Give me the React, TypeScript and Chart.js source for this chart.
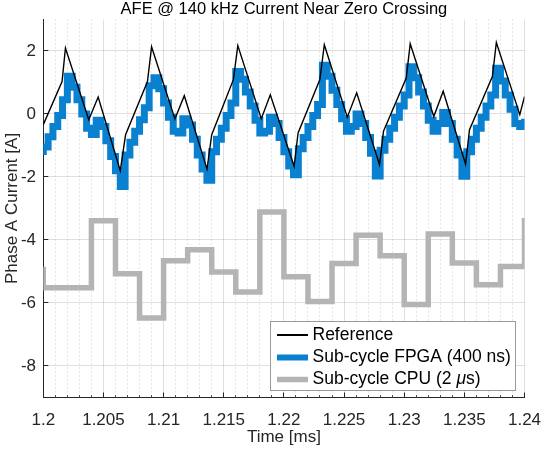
import React, { useEffect, useRef } from "react";
import { Chart, registerables } from "chart.js";

Chart.register(...registerables);

// ---------- text ----------
const TITLE = "AFE @ 140 kHz Current Near Zero Crossing";
const X_LABEL = "Time [ms]";
const Y_LABEL = "Phase A Current [A]";
const SERIES_NAMES = ["Reference", "Sub-cycle FPGA (400 ns)", "Sub-cycle CPU (2 μs)"];

// ---------- axes ----------
const xTickValues = [1.2, 1.205, 1.21, 1.215, 1.22, 1.225, 1.23, 1.235, 1.24];
const xTickLabels = ["1.2", "1.205", "1.21", "1.215", "1.22", "1.225", "1.23", "1.235", "1.24"];
const xMinorTickValues = [
  1.201, 1.202, 1.203, 1.204, 1.206, 1.207, 1.208, 1.209,
  1.211, 1.212, 1.213, 1.214, 1.216, 1.217, 1.218, 1.219,
  1.221, 1.222, 1.223, 1.224, 1.226, 1.227, 1.228, 1.229,
  1.231, 1.232, 1.233, 1.234, 1.236, 1.237, 1.238, 1.239,
];
const yTickValues = [-8, -6, -4, -2, 0, 2];
const yTickLabels = ["-8", "-6", "-4", "-2", "0", "2"];
const X_MIN = 1.2;
const X_MAX = 1.24;
const Y_MIN = -9;
const Y_MAX = 3;

// ---------- Reference (corner points, ms / A) ----------
const refTimes = [
  1.2, 1.20156, 1.20184, 1.20378, 1.20456, 1.2064, 1.20684, 1.20866, 1.209,
  1.21094, 1.21172, 1.21361, 1.214, 1.2158, 1.21617, 1.21812, 1.21887, 1.22085,
  1.22118, 1.22299, 1.22336, 1.22527, 1.22605, 1.22795, 1.22828, 1.23017, 1.2305,
  1.23246, 1.23324, 1.2351, 1.23543, 1.23733, 1.23766, 1.23961, 1.24,
];
const refValues = [
  -0.34, 1.03, 2.09, -0.18, 0.54, -1.8, -0.66, 1.03, 2.13,
  -0.16, 0.58, -1.75, -0.66, 1.09, 2.17, -0.15, 0.61, -1.66,
  -0.6, 1.09, 2.2, -0.1, 0.67, -1.61, -0.55, 1.14, 2.23,
  -0.08, 0.72, -1.59, -0.5, 1.19, 2.27, -0.02, 0.55,
];

// ---------- Sub-cycle FPGA (400 ns hold) ----------
const fpgaStartMs = 1.2;
const fpgaStepMs = 0.0004;
const fpgaInitial = -1.3;
const fpgaValues = [
  -1.05, -0.72, -0.4, -0.05, 0.45, 1.2, 0.85, 0.45, 0.0, -0.45,
  -0.65, -0.2, -0.4, -0.85, -1.35, -1.8, -2.3, -1.3, -0.9, -0.55,
  -0.18, 0.2, 0.9, 1.15, 0.8, 0.35, -0.1, -0.55, -0.6, -0.15,
  -0.35, -0.8, -1.3, -1.75, -2.1, -1.2, -0.8, -0.45, -0.05, 0.35,
  1.35, 1.1, 0.7, 0.25, -0.2, -0.6, -0.55, -0.1, -0.3, -0.75,
  -1.2, -1.65, -1.93, -1.1, -0.75, -0.4, -0.05, 0.3, 1.55, 1.2,
  0.75, 0.3, -0.15, -0.55, -0.4, 0.0, -0.3, -0.75, -1.25, -1.97,
  -1.15, -0.8, -0.45, -0.1, 0.25, 0.6, 1.5, 1.15, 0.7, 0.25,
  -0.2, -0.55, -0.3, 0.05, -0.3, -0.8, -1.3, -1.98, -1.2, -0.8,
  -0.45, -0.1, 0.25, 0.6, 1.45, 1.05, 0.6, 0.15, -0.3, -0.4,
];
const fpgaFinal = -0.15;

// ---------- Sub-cycle CPU (2 us hold) ----------
const cpuTimes = [
  1.2, 1.202, 1.204, 1.206, 1.208, 1.21, 1.212, 1.214, 1.216, 1.218,
  1.22, 1.222, 1.224, 1.226, 1.228, 1.23, 1.232, 1.234, 1.236, 1.238,
];
const cpuValues = [
  -5.52, -5.52, -3.39, -5.07, -6.48, -4.66, -4.31, -5.02, -5.65, -3.11,
  -5.17, -5.95, -4.75, -3.85, -4.5, -6.05, -3.81, -4.73, -5.42, -4.84,
];
const cpuInitial = -4.85;
const cpuFinal = -3.3;

// ---------- styles ----------
const FONT = '"Liberation Sans", Arial, Helvetica, sans-serif';
const TEXT = "#262626";
const AXIS = "#262626";
const GRID = "rgba(38,38,38,0.15)";
const MINOR_GRID = "rgba(26,26,26,0.22)";
const BLUE = "#0A80D0";
const GREY = "#B4B4B4";
const LEGEND_EDGE = "#9a9a9a";
const SWATCH_WIDTHS = [2, 6, 5.5];

const legendPlugin = {
  id: "boxedLegend",
  afterDraw(chart: any) {
    const ctx = chart.ctx as CanvasRenderingContext2D;
    const left = 270.5, top = 321.5, right = 515.5, bottom = 390.5;
    const rowY = [335, 357.5, 379.5];
    ctx.save();
    ctx.fillStyle = "#ffffff";
    ctx.fillRect(left, top, right - left, bottom - top);
    ctx.strokeStyle = LEGEND_EDGE;
    ctx.lineWidth = 1;
    ctx.strokeRect(left, top, right - left, bottom - top);
    chart.data.datasets.forEach((ds: any, i: number) => {
      const y = rowY[i];
      ctx.beginPath();
      ctx.strokeStyle = ds.borderColor;
      ctx.lineWidth = SWATCH_WIDTHS[i];
      ctx.lineCap = "butt";
      ctx.moveTo(277, y);
      ctx.lineTo(308, y);
      ctx.stroke();
      ctx.fillStyle = "#000";
      ctx.textBaseline = "middle";
      ctx.textAlign = "left";
      const parts = String(ds.label).split("μ");
      let x = 312.5;
      parts.forEach((p: string, j: number) => {
        ctx.font = `17.5px ${FONT}`;
        ctx.fillText(p, x, y);
        x += ctx.measureText(p).width;
        if (j < parts.length - 1) {
          ctx.font = `italic 17.5px ${FONT}`;
          ctx.fillText("μ", x, y);
          x += ctx.measureText("μ").width;
        }
      });
    });
    ctx.restore();
  },
};

export default function App() {
  const canvasRef = useRef<HTMLCanvasElement | null>(null);

  useEffect(() => {
    if (!canvasRef.current) return;

    const refData = refTimes.map((t, i) => ({ x: t, y: refValues[i] }));
    const fpgaData = [{ x: fpgaStartMs, y: fpgaInitial }]
      .concat(fpgaValues.map((v, k) => ({ x: fpgaStartMs + k * fpgaStepMs, y: v })))
      .concat([{ x: X_MAX, y: fpgaFinal }]);
    const cpuData = [{ x: cpuTimes[0], y: cpuInitial }]
      .concat(cpuTimes.map((t, i) => ({ x: t, y: cpuValues[i] })))
      .concat([{ x: X_MAX, y: cpuFinal }]);

    const font = { family: FONT, size: 17 };

    const chart = new Chart(canvasRef.current, {
      type: "line",
      data: {
        datasets: [
          {
            label: SERIES_NAMES[0],
            data: refData,
            borderColor: "#000000",
            borderWidth: 1.4,
            pointRadius: 0,
            tension: 0,
            xAxisID: "x",
            yAxisID: "y",
          },
          {
            label: SERIES_NAMES[1],
            data: fpgaData,
            borderColor: BLUE,
            borderWidth: 7,
            stepped: true,
            pointRadius: 0,
            xAxisID: "x",
            yAxisID: "y",
          },
          {
            label: SERIES_NAMES[2],
            data: cpuData,
            borderColor: GREY,
            borderWidth: 5.5,
            stepped: true,
            pointRadius: 0,
            xAxisID: "x",
            yAxisID: "y",
          },
        ],
      },
      options: {
        responsive: false,
        animation: false,
        events: [],
        layout: { padding: 0 },
        plugins: {
          legend: { display: false },
          tooltip: { enabled: false },
          title: {
            display: true,
            fullSize: false,
            text: TITLE,
            color: "#000000",
            font: { family: FONT, size: 16.5, weight: "normal", lineHeight: 1.18 },
            padding: { top: 0, bottom: 0 },
          },
        },
        scales: {
          xMinor: {
            type: "linear",
            position: "bottom",
            min: X_MIN,
            max: X_MAX,
            weight: 0,
            afterBuildTicks: (s: any) => {
              s.ticks = xMinorTickValues.map((v) => ({ value: v }));
            },
            afterFit: (s: any) => {
              s.height = 0;
              s.paddingLeft = 0;
              s.paddingRight = 0;
            },
            ticks: { display: false },
            grid: {
              color: MINOR_GRID,
              lineWidth: 1,
              tickLength: -2.5,
              tickColor: AXIS,
              tickWidth: 0.8,
            },
            border: { display: false, dash: [1, 3] },
          },
          x: {
            type: "linear",
            position: "bottom",
            min: X_MIN,
            max: X_MAX,
            weight: 1,
            afterBuildTicks: (s: any) => {
              s.ticks = xTickValues.map((v) => ({ value: v }));
            },
            afterFit: (s: any) => {
              s.height = 52.5;
              s.paddingLeft = 0;
              s.paddingRight = 18.5;
            },
            ticks: {
              color: TEXT,
              font,
              padding: 18,
              autoSkip: false,
              maxRotation: 0,
              callback: (_v: any, i: number) => xTickLabels[i],
            },
            grid: {
              color: GRID,
              lineWidth: 1,
              tickLength: -5,
              tickColor: AXIS,
              tickWidth: 1,
            },
            border: { display: true, color: AXIS, width: 1 },
            title: {
              display: true,
              text: X_LABEL,
              color: TEXT,
              font,
              padding: { top: 0, bottom: 2.8 },
            },
          },
          y: {
            type: "linear",
            position: "left",
            min: Y_MIN,
            max: Y_MAX,
            afterBuildTicks: (s: any) => {
              s.ticks = yTickValues.map((v) => ({ value: v }));
            },
            afterFit: (s: any) => {
              s.width = 43.3;
              s.paddingTop = 0;
              s.paddingBottom = 0;
            },
            ticks: {
              color: TEXT,
              font,
              padding: 12.3,
              callback: (_v: any, i: number) => yTickLabels[i],
            },
            grid: {
              color: GRID,
              lineWidth: 1,
              tickLength: -5,
              tickColor: AXIS,
              tickWidth: 1,
            },
            border: { display: true, color: AXIS, width: 1 },
            title: {
              display: true,
              text: Y_LABEL,
              color: TEXT,
              font,
              padding: { top: 1.8, bottom: 0 },
            },
          },
        },
      } as any,
      plugins: [legendPlugin],
    });

    return () => chart.destroy();
  }, []);

  return (
    <div style={{ position: "fixed", left: 0, top: 0, width: 543, height: 450, background: "#fff" }}>
      <canvas ref={canvasRef} width={543} height={450} style={{ display: "block" }} />
    </div>
  );
}
